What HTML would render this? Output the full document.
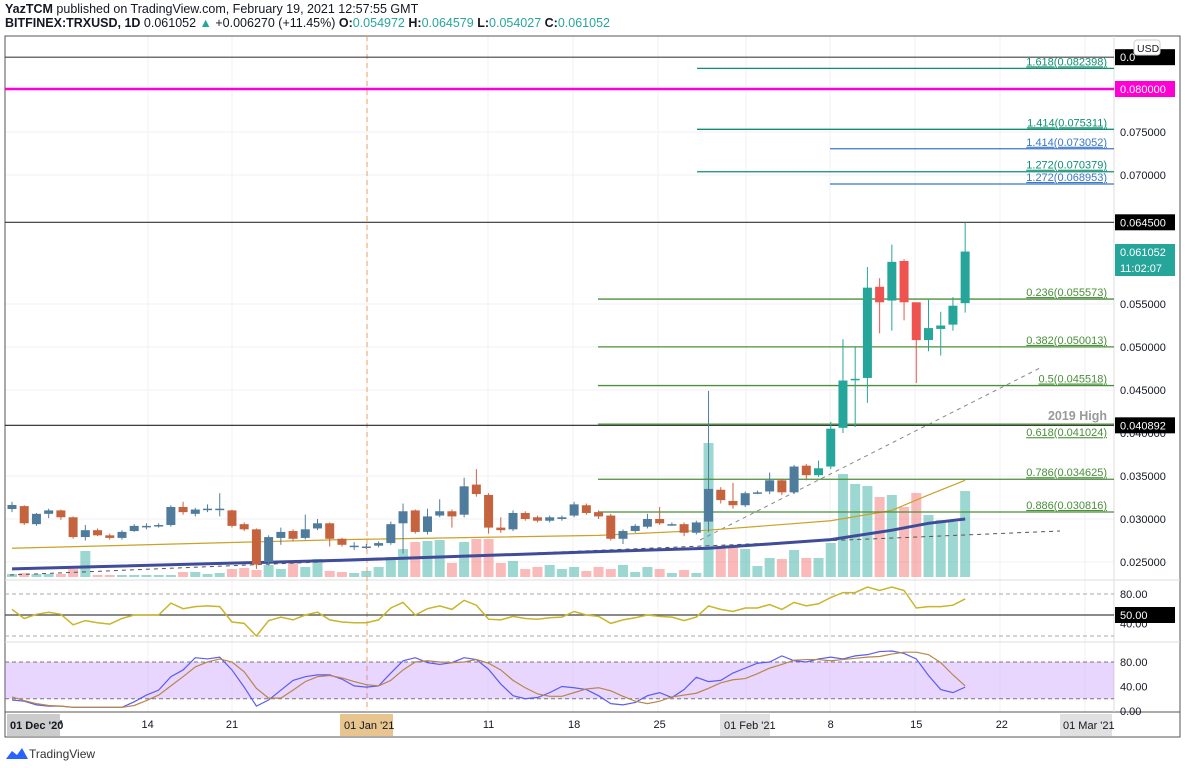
<!DOCTYPE html>
<html><head><meta charset="utf-8"><style>
body{margin:0;background:#fff;font-family:"Liberation Sans",sans-serif;}
#wrap{position:relative;width:1185px;height:768px;overflow:hidden;}
.hdr{position:absolute;left:5px;font-size:12.5px;color:#131722;white-space:nowrap}
</style></head><body>
<div id="wrap">
<div class="hdr" style="top:2px"><b>YazTCM</b> published on TradingView.com, February 19, 2021 12:57:55 GMT</div>
<div class="hdr" style="top:16px"><b>BITFINEX:TRXUSD, 1D</b> 0.061052 <span style="color:#26a69a">▲</span> +0.006270 (+11.45%) <b>O:</b><span style="color:#26a69a">0.054972</span> <b>H:</b><span style="color:#26a69a">0.064579</span> <b>L:</b><span style="color:#26a69a">0.054027</span> <b>C:</b><span style="color:#26a69a">0.061052</span></div>
<svg id="svg" width="1185" height="768" style="position:absolute;left:0;top:0"></svg>
</div>
<script>
// ---- data ----
const opens=[0.03116,0.0315,0.0294,0.0306,0.0310,0.0302,0.0279,0.0287,0.0281,0.0278,0.0286,0.0292,0.0292,0.0293,0.0314,0.0306,0.0312,0.0312,0.0310,0.0294,0.0288,0.0250,0.0278,0.0286,0.0278,0.0289,0.0295,0.0277,0.0269,0.0268,0.0269,0.0272,0.0295,0.0310,0.0285,0.0304,0.0309,0.0305,0.0340,0.0328,0.0290,0.0288,0.0307,0.0302,0.0298,0.0300,0.0304,0.0316,0.0308,0.0304,0.0277,0.0286,0.0291,0.0300,0.0294,0.0294,0.0284,0.0297,0.0334,0.0321,0.0316,0.0331,0.0332,0.0345,0.0331,0.0362,0.0351,0.0361,0.0406,0.0463,0.0464,0.0570,0.0554,0.0600,0.0552,0.0508,0.0521,0.0526,0.0551];
const closes=[0.03163,0.0295,0.0306,0.0310,0.0302,0.0279,0.0287,0.0281,0.0278,0.0285,0.0292,0.0292,0.0293,0.0314,0.0308,0.0311,0.0312,0.0312,0.0292,0.0288,0.0247,0.0279,0.0285,0.0277,0.0288,0.0295,0.0277,0.0270,0.0269,0.0268,0.0272,0.0294,0.0309,0.0285,0.0303,0.0309,0.0303,0.0338,0.0329,0.0290,0.0287,0.0307,0.0300,0.0298,0.0302,0.0302,0.0317,0.0307,0.0303,0.0277,0.0286,0.0292,0.0300,0.0295,0.0294,0.0284,0.0296,0.0335,0.0322,0.0316,0.0330,0.0331,0.0345,0.0331,0.0361,0.0351,0.0359,0.0405,0.0461,0.0463,0.0569,0.0552,0.0599,0.0552,0.0508,0.0522,0.0525,0.0548,0.0611];
const highs=[0.0320,0.0316,0.0307,0.0312,0.0311,0.0303,0.0293,0.0289,0.0283,0.0287,0.0294,0.0295,0.0295,0.0316,0.0320,0.0313,0.0317,0.0330,0.0311,0.0296,0.0289,0.0281,0.0290,0.0288,0.0305,0.0300,0.0296,0.0278,0.0273,0.0271,0.0274,0.0297,0.0318,0.0311,0.0312,0.0323,0.0311,0.0348,0.0358,0.0330,0.0302,0.0310,0.0309,0.0304,0.0304,0.0304,0.0320,0.0318,0.0310,0.0306,0.0288,0.0294,0.0306,0.0314,0.0296,0.0296,0.0298,0.0449,0.0337,0.0342,0.0332,0.0333,0.0354,0.0347,0.0363,0.0364,0.0368,0.0413,0.0509,0.0500,0.0593,0.0580,0.0619,0.0602,0.0542,0.0555,0.0541,0.0558,0.0645];
const lows=[0.0308,0.0293,0.0292,0.0301,0.0299,0.0277,0.0275,0.0280,0.0276,0.0276,0.0285,0.0288,0.0290,0.0291,0.0305,0.0303,0.0308,0.0303,0.0290,0.0286,0.0242,0.0246,0.0270,0.0274,0.0276,0.0287,0.0268,0.0268,0.0264,0.0265,0.0267,0.0270,0.0260,0.0283,0.0282,0.0302,0.0290,0.0302,0.0326,0.0283,0.0284,0.0286,0.0298,0.0296,0.0296,0.0298,0.0302,0.0305,0.0300,0.0275,0.0271,0.0284,0.0289,0.0293,0.0292,0.0280,0.0282,0.0285,0.0318,0.0312,0.0314,0.0329,0.0329,0.0328,0.0329,0.0345,0.0349,0.0358,0.0400,0.0407,0.0435,0.0516,0.0519,0.0531,0.0458,0.0495,0.0490,0.0519,0.0540];
const volumes=[3,4,3,3,3,8,26,2,2,2,2,2,2,2,5,5,3,4,8,9,7,12,8,15,10,18,6,5,4,6,10,20,28,35,36,37,14,35,38,38,14,16,8,10,12,8,10,6,10,8,12,5,10,8,4,7,4,134,30,30,28,11,19,18,27,19,19,34,103,93,91,80,82,70,84,62,57,55,86];
const rsi=[58,45,51,54,51,36,42,39,37,45,50,50,50,67,59,62,63,62,40,38,20,42,47,43,50,54,43,40,39,39,43,60,68,50,59,63,58,71,64,44,43,48,45,44,46,47,55,50,48,38,43,46,50,48,47,42,47,63,58,55,60,60,65,58,68,63,66,75,82,82,90,85,90,85,60,62,62,64,73];
const stochK=[18,16,10,8,8,6,6,6,6,6,15,26,34,56,67,87,85,88,67,39,8,18,34,50,56,59,59,52,41,39,41,62,82,87,79,76,79,87,84,68,44,25,20,22,30,40,38,35,25,12,10,14,25,30,22,35,55,48,50,62,70,78,80,90,82,80,85,88,85,90,92,97,98,94,85,58,35,30,39];
const stochD=[23,17,12,9,8,6,6,6,6,6,9,17,26,41,56,72,80,85,80,64,37,21,21,34,48,56,58,54,48,43,41,50,67,80,82,80,79,80,84,78,67,50,38,28,24,24,30,36,38,33,24,16,12,16,23,26,29,37,46,51,53,61,70,76,83,84,84,82,84,86,88,89,93,96,96,92,79,59,41];
const maIdx=[0,27,48,57,67,72,75,78];
const maSlow=[0.0266,0.0276,0.0281,0.0287,0.0298,0.0310,0.0328,0.0345];
const maFast=[0.0242,0.0252,0.0262,0.0266,0.0276,0.0287,0.0295,0.0300];
const priceTicks=["0.075000","0.070000","0.055000","0.050000","0.045000","0.035000","0.030000","0.025000"];
const dateLabels=["7","14","21","11","18","25","8","15","22"];
const dateIdx=[3.9,11.1,18.0,39.0,46.0,53.0,67.0,74.0,81.0];
const fibGreenA=[[0.082398,"1.618(0.082398)"],[0.075311,"1.414(0.075311)"],[0.070379,"1.272(0.070379)"]];
const fibBlue=[[0.073052,"1.414(0.073052)"],[0.068953,"1.272(0.068953)"]];
const fibRetr=[[0.055573,"0.236(0.055573)"],[0.050013,"0.382(0.050013)"],[0.045518,"0.5(0.045518)"],[0.041024,"0.618(0.041024)"],[0.034625,"0.786(0.034625)"],[0.030816,"0.886(0.030816)"]];

// ---- scales ----
const X0=12, DX=12.22, PR=1114;
const xs=i=>X0+i*DX;
const yp=p=>519-(p-0.030)*8600;
const yr=v=>615-(v-50)*0.7;
const ys=v=>711-v*0.6125;
const yv=v=>577-v;
const svg=document.getElementById('svg');
const NS='http://www.w3.org/2000/svg';
function mk(tag,a,parent){const e=document.createElementNS(NS,tag);for(const k in a)e.setAttribute(k,a[k]);(parent||svg).appendChild(e);return e;}

// frame and grid
let g=mk('g',{});


priceTicks.forEach(t=>{mk('line',{x1:5,x2:PR,y1:yp(+t),y2:yp(+t),stroke:'#f0f2f6'},g);});
[148,232,367,488,573,658,746,830,915,1000,1085].forEach(x=>mk('line',{x1:x,x2:x,y1:36,y2:712,stroke:'#f0f2f6'},g));
mk('rect',{x:5,y:36,width:1175,height:701,fill:'none',stroke:'#555','stroke-width':1});
mk('line',{x1:5,x2:1180,y1:580,y2:580,stroke:'#ddd'});
mk('line',{x1:5,x2:1180,y1:642,y2:642,stroke:'#ddd'});
mk('line',{x1:5,x2:1180,y1:712,y2:712,stroke:'#555'});
mk('line',{x1:PR,x2:PR,y1:36,y2:712,stroke:'#ddd'});

// volume
const vg=mk('g',{});


volumes.forEach((v,i)=>{const up=closes[i]>=opens[i];
 const r=mk('rect',{x:xs(i)-5,y:yv(v),width:10,height:v,fill:up?'rgba(38,166,154,0.45)':'rgba(239,83,80,0.4)'},vg);
 
 });

// dashed trendlines and vertical
mk('line',{x1:367,x2:367,y1:36,y2:712,stroke:'#e8a060','stroke-dasharray':'5,4'});
mk('line',{x1:700,y1:540,x2:1040,y2:368,stroke:'#888','stroke-dasharray':'4,4'});
mk('line',{x1:10,y1:575,x2:1060,y2:531,stroke:'#555','stroke-dasharray':'4,4'});

// MAs
function mline(arr,color,w,name){const d=arr.map((v,k)=>(k?'L':'M')+xs(maIdx[k])+','+yp(v)).join(' ');
 const p=mk('path',{d:d,fill:'none',stroke:color,'stroke-width':w});
 
 }
mline(maSlow,'#c9a227',1.2,'ma-slow-line');
mline(maFast,'#3f4c9a',3,'ma-fast-line');

// horizontal levels
function hl(p,x1,color,w,name){const l=mk('line',{x1:x1,x2:PR,y1:yp(p),y2:yp(p),stroke:color,'stroke-width':w});
 
 }
hl(0.0837,5,'#444',1.2,'top-level-line');
hl(0.080,5,'#ff00d4',2.5,'magenta-0.08-line');
hl(0.0645,5,'#333',1.2,'resistance-0.0645-line');
hl(0.040892,5,'#222',1.2,'2019-high-line');
function lbl(p,x1,color,text,name,below){hl(p,x1,color,1.3,name+'-line');
 const t=mk('text',{x:1107,y:below?yp(p)+12:yp(p)-3,'text-anchor':'end','font-size':11,fill:color,'text-decoration':'underline'});t.textContent=text;
 
 }
fibGreenA.forEach(f=>lbl(f[0],697,'#0f8f6f',f[1],'fib-ext'));
fibBlue.forEach(f=>lbl(f[0],830,'#3b78c8',f[1],'fib-ext-blue'));
fibRetr.forEach(f=>lbl(f[0],598,'#4a8f3a',f[1],'fib-retr',f[0]===0.041024));
let h19=mk('text',{x:1107,y:420,'text-anchor':'end','font-size':12.5,'font-weight':'bold',fill:'#999'});h19.textContent='2019 High';



// candles
const cg=mk('g',{});


opens.forEach((o,i)=>{const c=closes[i];const up=c>=o;const late=i>=66;
 const col=late?(up?'#26a69a':'#ef5350'):(up?'#4f7c9c':'#c6633f');
 const x=xs(i);
 mk('line',{x1:x,x2:x,y1:yp(highs[i]),y2:yp(lows[i]),stroke:col,'stroke-width':1},cg);
 const top=yp(Math.max(o,c)),h=Math.max(1.5,Math.abs(yp(o)-yp(c)));
 const r=mk('rect',{x:x-4.5,y:top,width:9,height:h,fill:col},cg);
 
 });

// RSI pane
mk('line',{x1:5,x2:PR,y1:yr(80),y2:yr(80),stroke:'#aaa','stroke-dasharray':'4,3'});
mk('line',{x1:5,x2:PR,y1:yr(20),y2:yr(20),stroke:'#aaa','stroke-dasharray':'4,3'});
mk('line',{x1:5,x2:PR,y1:yr(50),y2:yr(50),stroke:'#444','stroke-width':1.3});
let rp=mk('path',{d:rsi.map((v,i)=>(i?'L':'M')+xs(i)+','+yr(v)).join(' '),fill:'none',stroke:'#c9b52a','stroke-width':1.5});



// Stoch pane
mk('rect',{x:5,y:ys(80),width:PR-5,height:ys(20)-ys(80),fill:'rgba(178,120,255,0.3)'});
mk('line',{x1:5,x2:PR,y1:ys(80),y2:ys(80),stroke:'#777','stroke-dasharray':'4,3'});
mk('line',{x1:5,x2:PR,y1:ys(20),y2:ys(20),stroke:'#777','stroke-dasharray':'4,3'});
let sk=mk('path',{d:stochK.map((v,i)=>(i?'L':'M')+xs(i)+','+ys(v)).join(' '),fill:'none',stroke:'#5b5cf0','stroke-width':1.2});


let sd=mk('path',{d:stochD.map((v,i)=>(i?'L':'M')+xs(i)+','+ys(v)).join(' '),fill:'none',stroke:'#b8864a','stroke-width':1.2});



// right axis
function axText(y,txt,fill,bg,name){if(bg){mk('rect',{x:1115,y:y-8,width:60,height:16,fill:bg});}
 const t=mk('text',{x:1120,y:y+4,'font-size':11,fill:fill});t.textContent=txt;
 
 }
priceTicks.forEach(t=>axText(yp(+t),t,'#131722',null,'price-tick'));
axText(yp(0.0837),'0.0','#fff','#000','top-price-tag');
let usd=mk('rect',{x:1134,y:40,width:26,height:15,fill:'#fff',stroke:'#ccc',rx:3});


let ut=mk('text',{x:1137,y:52,'font-size':10.5,fill:'#131722'});ut.textContent='USD';
axText(yp(0.080),'0.080000','#fff','#ff00d4','magenta-price-tag');
axText(yp(0.0645),'0.064500','#fff','#000','resistance-price-tag');
axText(252,'0.061052','#fff','#26a69a','last-price-tag');
axText(268,'11:02:07','#fff','#26a69a','countdown-tag');
axText(433,'0.040000','#131722',null,'price-tick');
axText(yp(0.040892),'0.040892','#fff','#000','2019-high-price-tag');
axText(yr(80),'80.00','#131722',null,'rsi-tick');
axText(yr(38),'40.00','#131722',null,'rsi-tick');
axText(yr(50),'50.00','#fff','#000','rsi-50-tag');
axText(ys(80),'80.00','#131722',null,'stoch-tick');
axText(ys(40),'40.00','#131722',null,'stoch-tick');
axText(ys(0),'0.00','#131722',null,'stoch-tick');

// bottom axis
dateLabels.forEach((d,k)=>{const t=mk('text',{x:xs(dateIdx[k]),y:728,'text-anchor':'middle','font-size':11,fill:'#131722'});t.textContent=d;
 
 });
mk('rect',{x:7,y:714,width:53,height:22,fill:'#ccc'});
let t1=mk('text',{x:10,y:729,'font-size':11,'font-weight':'bold',fill:'#131722'});t1.textContent="01 Dec '20";
mk('rect',{x:340,y:714,width:53,height:22,fill:'#e8c58f'});
let t2=mk('text',{x:344,y:729,'font-size':11,fill:'#131722'});t2.textContent="01 Jan '21";
mk('rect',{x:720,y:714,width:50,height:22,fill:'#e0e0e0'});
let t3=mk('text',{x:724,y:729,'font-size':11,fill:'#131722'});t3.textContent="01 Feb '21";
mk('rect',{x:1060,y:714,width:52,height:22,fill:'#e0e0e0'});
let t4=mk('text',{x:1063,y:729,'font-size':11,fill:'#131722'});t4.textContent="01 Mar '21";
// footer
mk('path',{d:'M6,759 L12,751 L17,755 L22,748 L28,759 Z',fill:'#2962ff'});
let tv=mk('text',{x:29,y:758,'font-size':12,fill:'#333'});tv.textContent='TradingView';


</script>
</body></html>
